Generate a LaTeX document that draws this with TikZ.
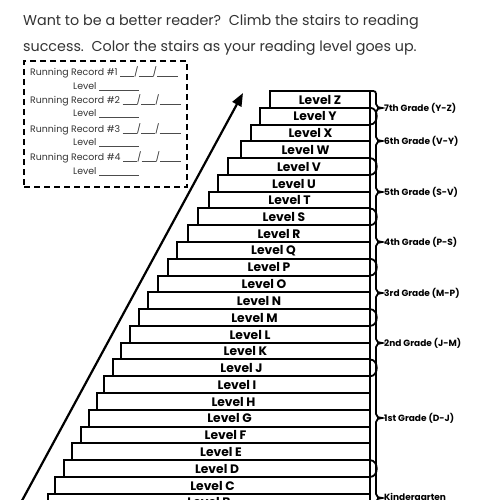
\documentclass[tikz,border=0pt]{standalone}
\usepackage{fontspec}
\setmainfont{Poppins}
\usetikzlibrary{arrows.meta}
\newcommand\gbrace[5]{%
  \draw[brace] (376,#1) -- (376,#3-4) .. controls (376,#3-1) and (379,#3) .. (382,#3)
    .. controls (379,#3) and (376,#3+1) .. (376,#3+4) -- (376,#2);
  \node[grade] (#4) at (384,#3) {#5};}
\newcommand\gbump[1]{%
  \draw[brace] (370,{91+16.78*#1}) .. controls (379,{91+16.78*#1}) and (379,{91+16.78*(#1+1)}) .. (370,{91+16.78*(#1+1)});}
\newcommand\blank[1]{\textcolor{black!70}{\rule[-1pt]{#1}{0.6pt}}}
\begin{document}
\begin{tikzpicture}[x=1pt,y=-1pt,
  stair/.style={draw, line width=2pt},
  lvl/.style={font=\fontsize{12.3}{12.3}\selectfont\bfseries, inner sep=0pt},
  brace/.style={draw, line width=1.8pt, line cap=round},
  grade/.style={anchor=west, inner sep=0pt, font=\fontsize{9}{9}\selectfont\bfseries},
  head/.style={anchor=base west, inner sep=0pt, font=\fontsize{14.3}{14.3}\selectfont, text=black!80},
  rec/.style={anchor=west, inner sep=0pt, font=\fontsize{9.4}{9.4}\selectfont, text=black!80}]
\useasboundingbox (0,0) rectangle (500,500);
\clip (0,0) rectangle (500,500);
\fill[white] (0,0) rectangle (500,500);
% header
\node[head] (h1) at (23,26) {Want to be a better reader?\ \ Climb the stairs to reading};
\node[head] (h2) at (23,52) {success.\ \ Color the stairs as your reading level goes up.};
% record box
\node[draw, line width=2pt, dash pattern=on 6pt off 4pt, minimum width=163pt, minimum height=126pt, inner sep=0pt] (box) at (105.5,124) {};
\node[rec] (r1) at (30,72) {Running Record \#1 \blank{14pt}/\blank{14pt}/\blank{21pt}};
\node[rec] (v1) at (73,87) {Level \blank{40pt}};
\node[rec] (r2) at (30,100) {Running Record \#2 \blank{14pt}/\blank{14pt}/\blank{21pt}};
\node[rec] (v2) at (73,114) {Level \blank{40pt}};
\node[rec] (r3) at (30,129) {Running Record \#3 \blank{14pt}/\blank{14pt}/\blank{21pt}};
\node[rec] (v3) at (73,143) {Level \blank{40pt}};
\node[rec] (r4) at (30,157) {Running Record \#4 \blank{14pt}/\blank{14pt}/\blank{21pt}};
\node[rec] (v4) at (73,172) {Level \blank{40pt}};
% stairs
\foreach \L/\xl [count=\k from 0] in {Z/270,Y/260,X/251,W/241,V/228,U/218,T/209,S/198,R/188,Q/177,P/168,O/158,N/148,M/139,L/130,K/121,J/113,I/104,H/97,G/89,F/81,E/72,D/64,C/55,B/48}{
  \pgfmathsetmacro\yt{91+16.78*\k}
  \draw[stair] (\xl,\yt) rectangle (370,{\yt+16.78});
  \node[lvl] (L\L) at ({(\xl+370)/2},{\yt+8.6}) {Level \L};
}
% arrow
\coordinate (arrS) at (18,508);
\coordinate (arrE) at (243,93);
\draw[line width=2.2pt, -{Triangle[length=13pt,width=10pt]}] (arrS) -- (arrE);
% braces
\draw[brace] (370,91) .. controls (376,91) .. (376,97);
\foreach \b in {1,4,7,10,13,16,22}{\gbump{\b}}
\gbrace{97}{116.6}{108}{g7}{7th Grade (Y-Z)}
\gbrace{116.6}{167}{141}{g6}{6th Grade (V-Y)}
\gbrace{167}{217.5}{192}{g5}{5th Grade (S-V)}
\gbrace{217.5}{267.8}{242}{g4}{4th Grade (P-S)}
\gbrace{267.8}{318.2}{293}{g3}{3rd Grade (M-P)}
\gbrace{318.2}{368.5}{343}{g2}{2nd Grade (J-M)}
\gbrace{368.5}{469.2}{418}{g1}{1st Grade (D-J)}
\gbrace{469.2}{530}{498}{gk}{Kindergarten}
\end{tikzpicture}
\end{document}
